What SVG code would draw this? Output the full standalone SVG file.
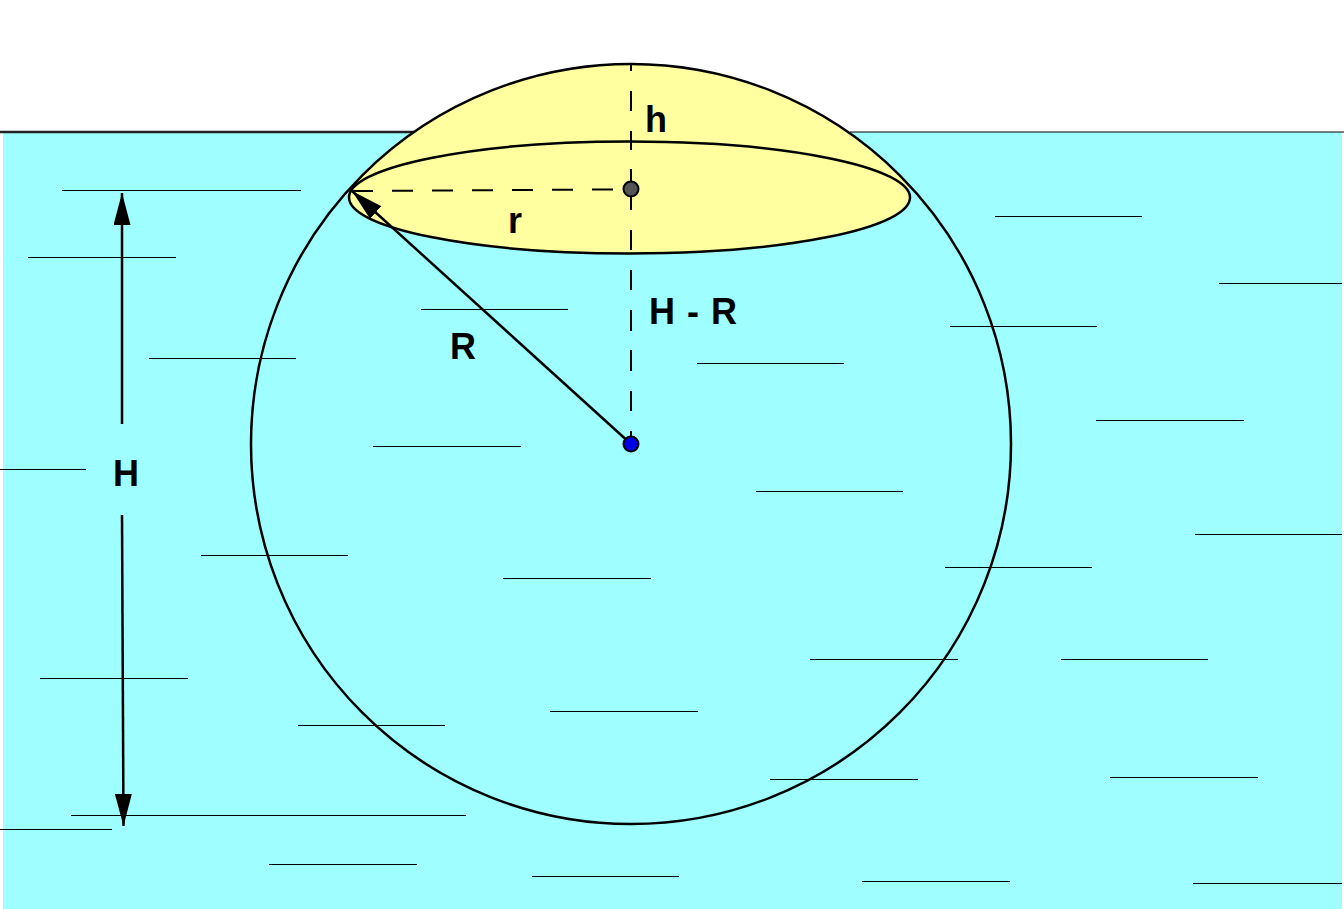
<svg xmlns="http://www.w3.org/2000/svg" width="1344" height="909" viewBox="0 0 1344 909">
<style>
.t{font-family:"Liberation Sans",Arial,sans-serif;font-weight:700;font-size:36px;fill:#000}
.w{stroke:#000;stroke-width:1;fill:none}
.o{stroke:#000;stroke-width:2.5;fill:none}
.d{stroke:#000;stroke-width:2;fill:none}
.a{stroke:#000;stroke-width:2.5;fill:none}
</style>
<defs>
<marker id="ah" markerUnits="userSpaceOnUse" markerWidth="32" markerHeight="17" refX="32" refY="8.5" orient="auto" viewBox="0 0 32 17"><path d="M0 0L32 8.5L0 17Z" fill="#000"/></marker>
</defs>
<g id="water">
<rect x="3" y="132" width="1339" height="777" fill="#9ffeff"/>
<path d="M0 132H414" stroke="#222" stroke-width="2.500"/>
<path d="M850 132H1344" stroke="#000" stroke-width="1.200"/>
</g>
<g id="ripples" class="w">
<path d="M62 190.500H301M28 257.500H176M149 358.500H296M0 469.500H86M201 555.500H348M40 678.500H188M71 815.500H466M0 829.500H112M269 864.500H417M298 725.500H445M373 446.500H521M421 309.500H568M503 578.500H651M550 711.500H698M532 876.500H679M697 363.500H844M756 491.500H903M810 659.500H958M770 779.500H918M862 881.500H1010M945 567.500H1092M950 326.500H1097M995 216.500H1142M1096 420.500H1244M1061 659.500H1208M1110 777.500H1258M1195 534.500H1342M1219 283.500H1342M1193 883.500H1342"/>
</g>
<g id="cap">
<path d="M350 188A380 380 0 0 1 911 188Z" fill="#ffff9f"/>
<ellipse cx="629.500" cy="197.500" rx="280.500" ry="56" fill="#ffff9f"/>
</g>
<g id="sphere"><circle class="o" cx="631" cy="444" r="380"/></g>
<g id="section"><ellipse class="o" cx="629.500" cy="197.500" rx="280.500" ry="56"/></g>
<g id="connectors">
<path class="d" d="M631 65V71M631 91V111M631 131V150M631 169V189M631 190V210M631 230V250M631 270V290M631 310V331M631 350V371M631 391V411M631 431V444"/>
<path class="d" d="M352 191H373M392 190.800H413M432 190.500H453M472 190.200H493M512 190H533M552 189.800H573M592 189.500H613"/>
<path class="a" d="M631 444L352 191" marker-end="url(#ah)"/>
<path class="a" d="M122 424V193" marker-end="url(#ah)"/>
<path class="a" d="M122 515L123.500 826" marker-end="url(#ah)"/>
</g>
<g id="center-top"><circle cx="631" cy="189" r="7.500" fill="#555" stroke="#000" stroke-width="2"/></g>
<g id="center"><circle cx="631" cy="444" r="7.500" fill="#0000e6" stroke="#000" stroke-width="2"/></g>
<g id="labels">
<text class="t" x="645" y="132">h</text>
<text class="t" x="508" y="233">r</text>
<text class="t" x="649" y="324" word-spacing="2">H - R</text>
<text class="t" x="450" y="359">R</text>
<text class="t" x="113" y="486">H</text>
</g>
</svg>
